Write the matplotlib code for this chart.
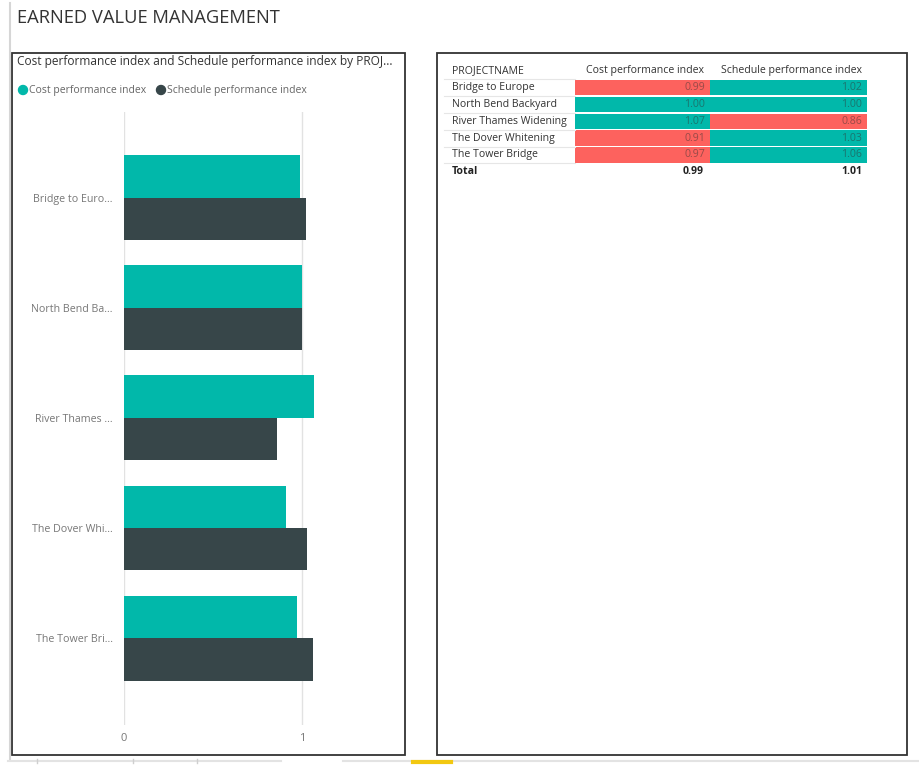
import matplotlib
matplotlib.use("Agg")
import matplotlib.pyplot as plt
from matplotlib.patches import Rectangle, Circle

plt.rcParams['font.family'] = ['Open Sans', 'DejaVu Sans']

# data
projects = ["Bridge to Europe", "North Bend Backyard", "River Thames Widening",
            "The Dover Whitening", "The Tower Bridge"]
short_labels = ["Bridge to Euro...", "North Bend Ba...", "River Thames ...",
                "The Dover Whi...", "The Tower Bri..."]
cpi = [0.99, 1.00, 1.07, 0.91, 0.97]
spi = [1.02, 1.00, 0.86, 1.03, 1.06]
total_cpi = 0.99
total_spi = 1.01

TEAL = '#01B8AA'
DARK = '#374649'
RED = '#FD625E'
W, H = 919, 766

fig = plt.figure(figsize=(W / 100, H / 100), dpi=100)
fig.patch.set_facecolor('white')

# background axes in pixel coordinates (frames, titles, table)
bg = fig.add_axes([0, 0, 1, 1])
bg.set_xlim(0, W)
bg.set_ylim(H, 0)
bg.axis('off')

bg.plot([10, 10], [3, 760], color='#d6d6d6', lw=1.5)
bg.text(17, 18, "EARNED VALUE MANAGEMENT", fontsize=13.2, color='#333333',
        va='center', ha='left')

# panel frames
bg.add_patch(Rectangle((12, 53), 393, 702, fill=False, ec='#333333', lw=1.3))
bg.add_patch(Rectangle((437, 53), 470, 702, fill=False, ec='#333333', lw=1.3))

# chart title + legend
bg.text(17, 62, "Cost performance index and Schedule performance index by PROJ...",
        fontsize=8.6, color='#333333', va='center', ha='left')
bg.add_patch(Circle((23, 90), 4.5, color=TEAL))
bg.text(29, 90, "Cost performance index", fontsize=7.5, color='#666666',
        va='center', ha='left')
bg.add_patch(Circle((161, 90), 4.5, color=DARK))
bg.text(167, 90, "Schedule performance index", fontsize=7.5, color='#666666',
        va='center', ha='left')

# bottom page tab bar
bg.plot([8, 281], [761, 761], color='#e3e3e3', lw=1.5)
for tx in [37, 133, 197]:
    bg.plot([tx, tx], [759, 763], color='#cfcfcf', lw=1)
bg.plot([343, 919], [761, 761], color='#e3e3e3', lw=1.5)
bg.plot([413, 451], [761.5, 761.5], color='#F2C811', lw=3)

# bar chart
px_per_unit = 178
ax_left, ax_right, ax_top, ax_bot = 124, 390, 112, 725
ax = fig.add_axes([ax_left / W, 1 - ax_bot / H, (ax_right - ax_left) / W,
                   (ax_bot - ax_top) / H])
ax.set_facecolor('none')
bh = 0.386
pos = list(range(len(projects)))
ax.barh([p - bh / 2 for p in pos], cpi, height=bh, color=TEAL, zorder=2)
ax.barh([p + bh / 2 for p in pos], spi, height=bh, color=DARK, zorder=2)
ax.set_xlim(0, (ax_right - ax_left) / px_per_unit)
ax.set_ylim(4.79, -0.78)
ax.set_xticks([0, 1])
ax.set_xticklabels(['0', '1'])
ax.set_yticks(pos)
ax.set_yticklabels(short_labels)
for v in [0, 1]:
    ax.axvline(v, color='#e2e2e2', lw=1, zorder=1)
for s in ax.spines.values():
    s.set_visible(False)
ax.tick_params(axis='x', length=0, pad=6, labelsize=8, labelcolor='#777777')
ax.tick_params(axis='y', length=0, pad=8, labelsize=7.7, labelcolor='#777777')

# table
name_x0, c1_x0, c2_x0, c2_x1 = 444, 575, 710, 867
row0, row_h = 79.3, 16.8
tfs = 7.6
bg.text(452, 70.5, "PROJECTNAME", fontsize=tfs, color='#333333', va='center')
bg.text(c2_x0 - 6, 70.5, "Cost performance index", fontsize=tfs, color='#333333',
        va='center', ha='right')
bg.text(c2_x1 - 5, 70.5, "Schedule performance index", fontsize=tfs, color='#333333',
        va='center', ha='right')

for i, name in enumerate(projects):
    top = row0 + i * row_h
    yc = top + row_h / 2
    bg.plot([name_x0, c1_x0], [top, top], color='#e6e6e6', lw=0.8)
    bg.text(452, yc, name, fontsize=tfs, color='#333333', va='center')
    for val, x0, x1 in [(cpi[i], c1_x0, c2_x0), (spi[i], c2_x0, c2_x1)]:
        col = TEAL if val >= 1 else RED
        bg.add_patch(Rectangle((x0, top + 0.6), x1 - x0, row_h - 1.2,
                               color=col, lw=0))
        bg.text(x1 - 5, yc, f"{val:.2f}", fontsize=tfs, color='#333333',
                alpha=0.5, va='center', ha='right')
bottom = row0 + len(projects) * row_h
bg.plot([name_x0, c1_x0], [bottom, bottom], color='#e6e6e6', lw=0.8)

ty = bottom + 8.5
bg.text(452, ty, "Total", fontsize=tfs, color='#222222', va='center',
        fontweight='bold')
bg.text(c2_x0 - 6, ty, f"{total_cpi:.2f}", fontsize=tfs, color='#222222',
        va='center', ha='right', fontweight='bold')
bg.text(c2_x1 - 5, ty, f"{total_spi:.2f}", fontsize=tfs, color='#222222',
        va='center', ha='right', fontweight='bold')

fig.savefig('out.png', dpi=100)
